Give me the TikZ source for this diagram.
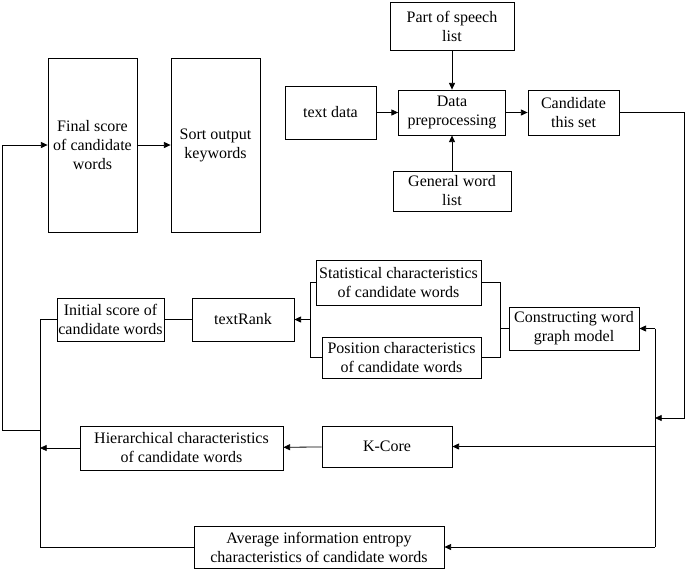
\documentclass[tikz,border=0pt]{standalone}
\usepackage{fontspec}
\setmainfont{Liberation Serif}
\usetikzlibrary{arrows.meta,positioning,calc}

\begin{document}
\begin{tikzpicture}[x=0.75pt,y=-0.75pt,>={Triangle[length=5pt,width=4.5pt]},
 line width=0.6pt,font=\fontsize{12}{14.25}\selectfont,
 box/.style={draw,rectangle,align=center,inner sep=0pt}]
\useasboundingbox (0,0) rectangle (685,569);
\node[box,minimum width=93pt,minimum height=36pt] (pos) at (452,26) {Part of speech\\list};
\node[box,minimum width=68.25pt,minimum height=39.75pt] (txt) at (330.5,112.5) {text data};
\node[box,minimum width=80.25pt,minimum height=33.75pt] (pre) at (452,112.5) {Data\\preprocessing};
\node[box,minimum width=68.25pt,minimum height=33.75pt] (cand) at (573.5,112.5) {Candidate\\this set};
\node[box,minimum width=88.5pt,minimum height=30pt] (gen) at (452,191) {General word\\list};
\node[box,minimum width=66.75pt,minimum height=130.5pt] (fin) at (92.5,145) {Final score\\of candidate\\words};
\node[box,minimum width=66.75pt,minimum height=130.5pt] (sort) at (215.5,145) {Sort output\\keywords};
\node[box,minimum width=80.25pt,minimum height=32.25pt] (ini) at (110.5,319.5) {Initial score of\\candidate words};
\node[box,minimum width=76.5pt,minimum height=32.25pt] (tr) at (243,319.5) {textRank};
\node[box,minimum width=123.75pt,minimum height=33.75pt] (stat) at (398.5,282.5) {Statistical characteristics\\of candidate words};
\node[box,minimum width=119.25pt,minimum height=30.75pt] (posc) at (401.5,357.5) {Position characteristics\\of candidate words};
\node[box,minimum width=97.5pt,minimum height=32.25pt] (cons) at (574,328.5) {Constructing word\\graph model};
\node[box,minimum width=152.25pt,minimum height=33pt] (hier) at (181.5,448) {Hierarchical characteristics\\of candidate words};
\node[box,minimum width=97.5pt,minimum height=30.75pt] (kc) at (387,446.5) {K-Core};
\node[box,minimum width=187.5pt,minimum height=31.5pt] (avg) at (319,547) {Average information entropy\\characteristics of candidate words};
\coordinate (rtop) at (655,328.5);
\coordinate (rbot) at (655,547);
\coordinate (rin) at (655,418);
\coordinate (ltop) at (40,319.5);
\coordinate (lbot) at (40,547);
\coordinate (ljoin) at (40,430);
\coordinate (bl) at (311,319.5);
\coordinate (br) at (500,328.5);
\draw[->] (pos) -- (pre);
\draw[->] (gen) -- (pre);
\draw[->] (txt) -- (pre);
\draw[->] (pre) -- (cand);
\draw[->] (cand.east) -- ++(65,0) |- (rin);
\draw (rtop) -- (rbot);
\draw[->] (rtop) -- (cons);
\draw[->] (rtop |- kc) -- (kc);
\draw[->] (rbot) -- (avg);
\draw (br) -- (cons);
\draw (stat.east) -- ++(19,0) |- (posc.east);
\draw (stat.west) -- ++(-5,0) |- (posc.west);
\draw[->] (bl) -- (tr);
\draw (tr) -- (ini);
\draw[->] (kc) -- (hier);
\draw[->] (hier) -- (ltop |- hier);
\draw (ini) -- (ltop) -- (lbot) -- (avg);
\draw[->] (ljoin) -- ++(-38,0) |- (fin);
\draw[->] (fin) -- (sort);
\end{tikzpicture}
\end{document}
